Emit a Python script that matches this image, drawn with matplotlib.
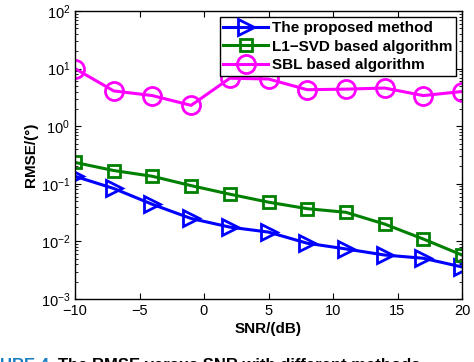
import numpy as np
import matplotlib
matplotlib.use("Agg")
import matplotlib.pyplot as plt
from matplotlib.ticker import LogLocator, NullFormatter

# data
snr = [-10, -7, -4, -1, 2, 5, 8, 11, 14, 17, 20]
rmse_proposed = [0.135, 0.083, 0.044, 0.025, 0.0177, 0.0145, 0.0093, 0.0074, 0.0058, 0.0051, 0.0036]
rmse_l1svd = [0.235, 0.17, 0.135, 0.093, 0.066, 0.048, 0.037, 0.032, 0.020, 0.011, 0.0058]
rmse_sbl = [10.0, 4.1, 3.4, 2.3, 6.8, 6.6, 4.3, 4.4, 4.6, 3.4, 4.0]

labels = ["The proposed method", "L1\u2212SVD based algorithm", "SBL based algorithm"]
x_ticks = [-10, -5, 0, 5, 10, 15, 20]

plt.rcParams['font.family'] = ['Liberation Sans', 'DejaVu Sans']
plt.rcParams['mathtext.fontset'] = 'custom'
plt.rcParams['mathtext.rm'] = 'Liberation Sans'

fig = plt.figure(figsize=(4.74, 3.62), dpi=100)
ax = fig.add_axes([75 / 474, 1 - 299 / 362, (462 - 75) / 474, (299 - 11) / 362])

ax.plot(snr, rmse_proposed, color='#0000ff', lw=2.2, marker='>', ms=11.5,
        mfc='none', mew=2, label=labels[0])
ax.plot(snr, rmse_l1svd, color='#008000', lw=2.2, marker='s', ms=8.5,
        mfc='none', mew=2, label=labels[1])
ax.plot(snr, rmse_sbl, color='#ff00ff', lw=2.2, marker='o', ms=13,
        mfc='none', mew=2, label=labels[2])

ax.set_yscale('log')
ax.set_xlim(-10, 20)
ax.set_ylim(1e-3, 1e2)
ax.set_xticks(x_ticks)
ax.set_xticklabels(['\u221210', '\u22125', '0', '5', '10', '15', '20'])
ax.yaxis.set_major_locator(LogLocator(base=10, numticks=10))
ax.yaxis.set_minor_locator(LogLocator(base=10, subs=np.arange(2, 10), numticks=10))
ax.yaxis.set_minor_formatter(NullFormatter())
ax.tick_params(which='both', direction='in', top=True, right=True, labelsize=10.5)
ax.tick_params(which='major', length=4)
ax.tick_params(which='minor', length=2)
for sp in ax.spines.values():
    sp.set_linewidth(1.0)

ax.set_xlabel('SNR/(dB)', fontsize=11, fontweight='bold', labelpad=3)
ax.set_ylabel('RMSE/(\u00b0)', fontsize=11, fontweight='bold', labelpad=2)

leg = ax.legend(loc='upper right', prop={'weight': 'bold', 'size': 11},
                fancybox=False, edgecolor='black', framealpha=1,
                borderpad=0.25, labelspacing=0.3, handlelength=2.9,
                handletextpad=0.25, borderaxespad=0.4)
leg.get_frame().set_linewidth(1.0)

# caption, cut off at the bottom edge as in the source
fig.text(0.0, 1 - 358 / 362, 'URE 4.', color='#1a7fc0', fontsize=12,
         fontweight='bold', va='top', ha='left')
fig.text(58 / 474, 1 - 358 / 362, 'The RMSE versus SNR with different methods.',
         color='black', fontsize=12, fontweight='bold', va='top', ha='left')

fig.savefig('out.png', dpi=100)
